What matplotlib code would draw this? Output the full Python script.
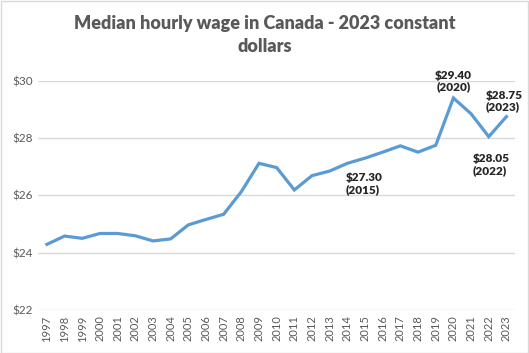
import matplotlib.pyplot as plt
from matplotlib.patches import Rectangle

years = list(range(1997, 2024))
wages = [24.29, 24.58, 24.50, 24.67, 24.67, 24.59, 24.41, 24.48, 24.97, 25.16,
         25.34, 26.13, 27.12, 26.97, 26.19, 26.69, 26.85, 27.12, 27.30, 27.51,
         27.73, 27.51, 27.75, 29.40, 28.85, 28.05, 28.75]
yticks = [22, 24, 26, 28, 30]

grey = '#595959'
plt.rcParams['font.family'] = ['Lato', 'DejaVu Sans']

fig = plt.figure(figsize=(5.29, 3.53), dpi=100)
ax = fig.add_axes([0.072, 0.122, 0.902, 0.649])

ax.plot(years, wages, color='#5B9BD5', lw=2.3, solid_joinstyle='miter', zorder=3)

ax.set_xlim(1996.5, 2023.5)
ax.set_ylim(22, 30)
ax.set_yticks(yticks)
ax.set_yticklabels([f'${v}' for v in yticks], color=grey, fontsize=8.5)
ax.set_xticks(years)
ax.set_xticklabels([str(y) for y in years], rotation=90, color=grey, fontsize=8)
ax.tick_params(length=0, pad=4)
ax.grid(axis='y', color='#D9D9D9', lw=1)
ax.set_axisbelow(True)
for s in ax.spines.values():
    s.set_visible(False)

# (dx, dy) offsets in points, vertical alignment, horizontal alignment
labels = {2015: (-14, -10, 'top', 'left'), 2020: (0, 4, 'bottom', 'center'),
          2022: (-11.5, -12, 'top', 'left'), 2023: (-15, 3, 'bottom', 'left')}
for yr, (dx, dy, va, ha) in labels.items():
    v = wages[years.index(yr)]
    ax.annotate(f'${v:.2f}\n({yr})', (yr, v), xytext=(dx, dy), textcoords='offset points',
                ha=ha, va=va, fontsize=8.5, fontweight='heavy', color='#262626',
                annotation_clip=False, linespacing=1.1)

fig.text(0.5, 0.9, 'Median hourly wage in Canada - 2023 constant\ndollars',
         ha='center', va='center', fontsize=13, fontweight='heavy', color=grey,
         linespacing=1.45)

fig.patches.append(Rectangle((0.001, 0.001), 0.997, 0.996, transform=fig.transFigure,
                             fill=False, ec='#D9D9D9', lw=1))

fig.savefig('out.png', dpi=100)
